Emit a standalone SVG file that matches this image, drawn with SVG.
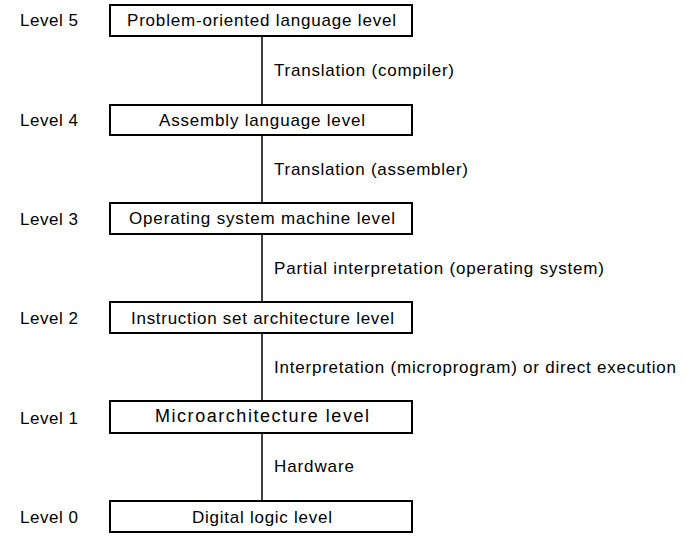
<svg xmlns="http://www.w3.org/2000/svg" width="686" height="549" viewBox="0 0 686 549">
<style>
rect{fill:#fff;stroke:#000;stroke-width:2}
text{font-family:"Liberation Sans",Arial,sans-serif;font-size:17px;fill:#000}
.c{text-anchor:middle}
line{stroke:#000;stroke-width:1.5}
</style>
<rect x="0" y="0" width="686" height="549" style="stroke:none"/>
<g id="connectors">
<line x1="262" y1="36" x2="262" y2="105"/>
<line x1="262" y1="135" x2="262" y2="203"/>
<line x1="262" y1="234" x2="262" y2="302"/>
<line x1="262" y1="333" x2="262" y2="401"/>
<line x1="262" y1="433" x2="262" y2="501"/>
<text x="274" y="76" textLength="180" lengthAdjust="spacing">Translation (compiler)</text>
<text x="274" y="175" textLength="194" lengthAdjust="spacing">Translation (assembler)</text>
<text x="274" y="274" textLength="330" lengthAdjust="spacing">Partial interpretation (operating system)</text>
<text x="274" y="373" textLength="402" lengthAdjust="spacing">Interpretation (microprogram) or direct execution</text>
<text x="274" y="472" textLength="80" lengthAdjust="spacing">Hardware</text>
</g>
<g id="level5"><text x="20" y="26" textLength="58" lengthAdjust="spacing">Level 5</text><rect x="110" y="5" width="302" height="31"/><text x="127" y="26" textLength="269" lengthAdjust="spacing">Problem-oriented language level</text></g>
<g id="level4"><text x="20" y="126" textLength="58" lengthAdjust="spacing">Level 4</text><rect x="110" y="105" width="302" height="30"/><text x="159" y="126" textLength="206" lengthAdjust="spacing">Assembly language level</text></g>
<g id="level3"><text x="20" y="225" textLength="58" lengthAdjust="spacing">Level 3</text><rect x="110" y="203" width="302" height="31"/><text x="129" y="224" textLength="266" lengthAdjust="spacing">Operating system machine level</text></g>
<g id="level2"><text x="20" y="324" textLength="58" lengthAdjust="spacing">Level 2</text><rect x="110" y="302" width="302" height="31"/><text x="131" y="324" textLength="263" lengthAdjust="spacing">Instruction set architecture level</text></g>
<g id="level1"><text x="20" y="424" textLength="58" lengthAdjust="spacing">Level 1</text><rect x="110" y="401" width="302" height="32"/><text x="155" y="422" style="font-size:18px" textLength="214" lengthAdjust="spacing">Microarchitecture level</text></g>
<g id="level0"><text x="20" y="523" textLength="58" lengthAdjust="spacing">Level 0</text><rect x="110" y="501" width="302" height="31"/><text x="192" y="523" textLength="140" lengthAdjust="spacing">Digital logic level</text></g>
</svg>
